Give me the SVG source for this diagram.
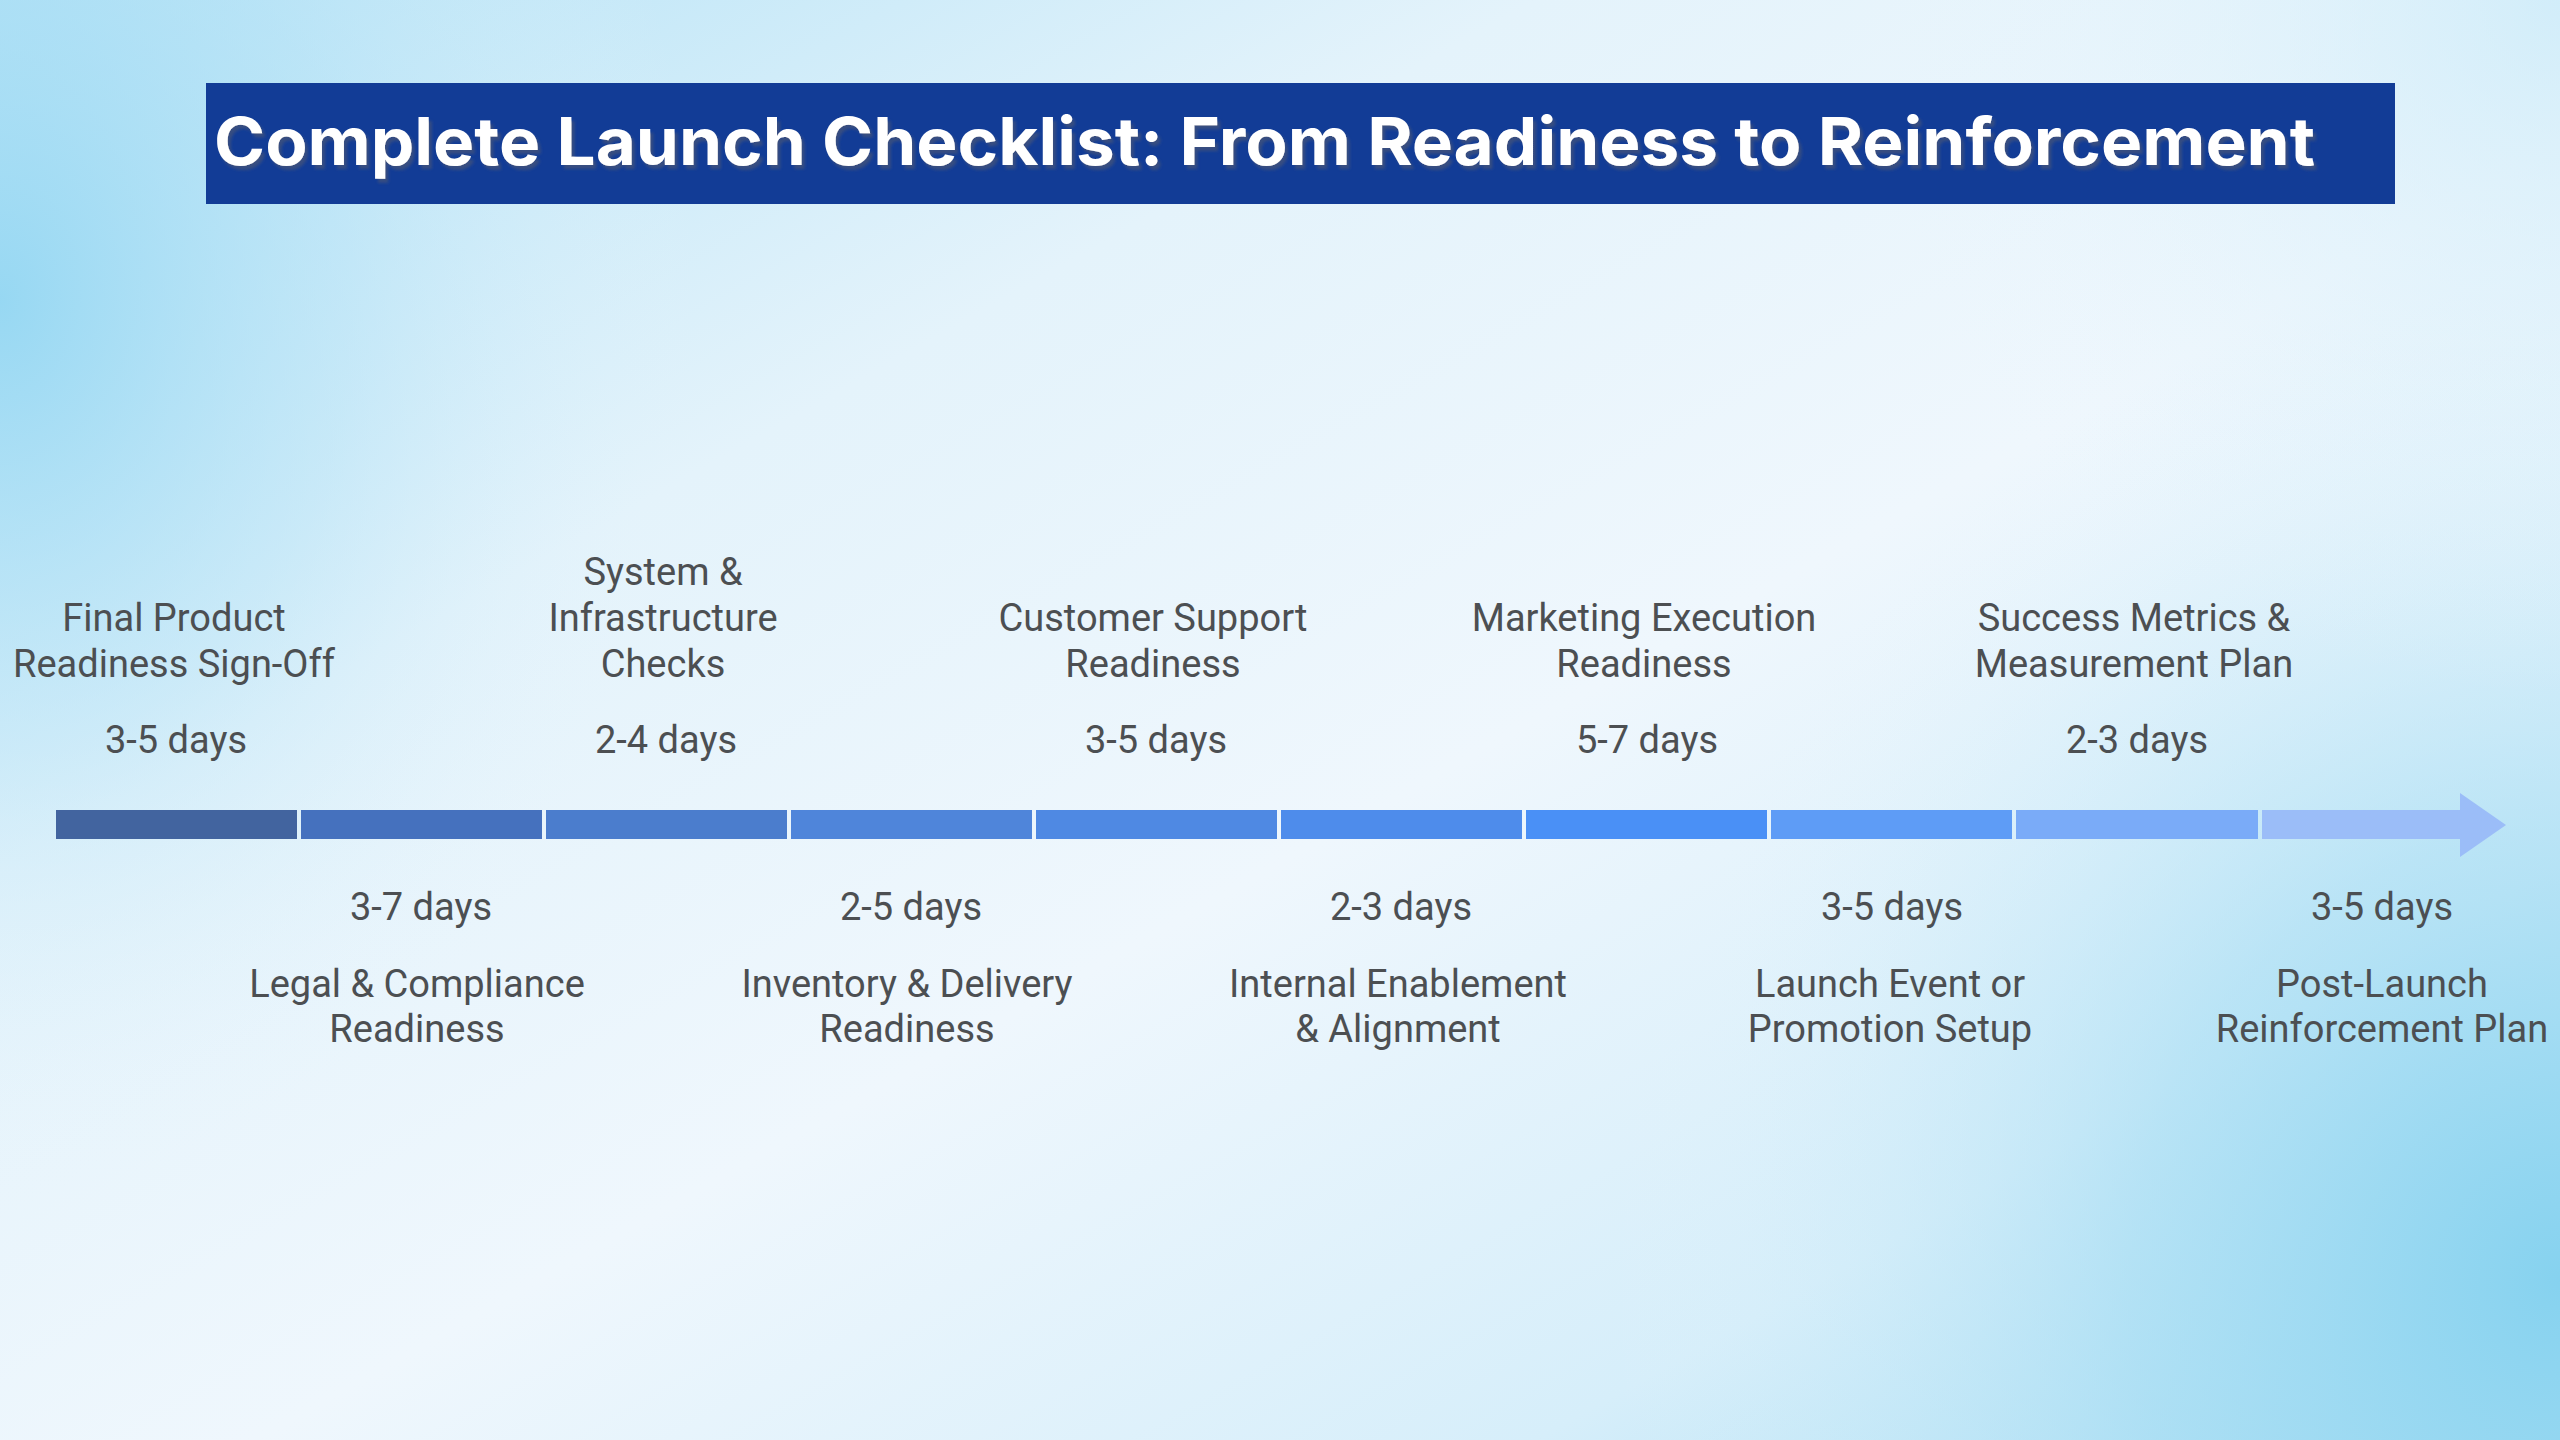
<svg xmlns="http://www.w3.org/2000/svg" width="2560" height="1440" viewBox="0 0 2560 1440">
  <defs>
    <linearGradient id="bgLin" x1="0" y1="0" x2="1" y2="1">
      <stop offset="0" stop-color="#b3e2f6"/>
      <stop offset="0.3" stop-color="#e4f3fb"/>
      <stop offset="0.55" stop-color="#eff7fd"/>
      <stop offset="0.8" stop-color="#d6eefa"/>
      <stop offset="1" stop-color="#9fdaf2"/>
    </linearGradient>
    <radialGradient id="glowL" cx="0" cy="0" r="1" gradientUnits="userSpaceOnUse" gradientTransform="translate(0 300) scale(700 900)">
      <stop offset="0" stop-color="#92d6f2" stop-opacity="0.9"/>
      <stop offset="0.5" stop-color="#b4e2f6" stop-opacity="0.45"/>
      <stop offset="1" stop-color="#e8f5fc" stop-opacity="0"/>
    </radialGradient>
    <radialGradient id="glowBR" cx="0" cy="0" r="1" gradientUnits="userSpaceOnUse" gradientTransform="translate(2560 1280) scale(950 1000)">
      <stop offset="0" stop-color="#86d2ef" stop-opacity="1"/>
      <stop offset="0.45" stop-color="#a6ddf3" stop-opacity="0.6"/>
      <stop offset="1" stop-color="#e8f5fc" stop-opacity="0"/>
    </radialGradient>
    <radialGradient id="glowTR" cx="2560" cy="0" r="700" gradientUnits="userSpaceOnUse">
      <stop offset="0" stop-color="#c6e9f8" stop-opacity="0.7"/>
      <stop offset="1" stop-color="#e8f5fc" stop-opacity="0"/>
    </radialGradient>
    <filter id="titleShadow" x="-5%" y="-30%" width="110%" height="160%">
      <feDropShadow dx="3" dy="4" stdDeviation="1.5" flood-color="#3a4f7e" flood-opacity="0.9"/>
    </filter>
    <style>
      .lbl { font-family: Roboto, "Liberation Sans", sans-serif; font-size: 38px; fill: #4c4f52; text-anchor: middle; }
      .dur { font-family: Roboto, "Liberation Sans", sans-serif; font-size: 38px; fill: #4c4f52; text-anchor: middle; }
      .title { font-family: Inter, "Open Sans", "Liberation Sans", sans-serif; font-weight: 700; font-size: 66px; fill: #ffffff; }
    </style>
  </defs>

  <!-- background -->
  <rect x="0" y="0" width="2560" height="1440" fill="url(#bgLin)"/>
  <rect x="0" y="0" width="2560" height="1440" fill="url(#glowL)"/>
  <rect x="0" y="0" width="2560" height="1440" fill="url(#glowBR)"/>
  <rect x="0" y="0" width="2560" height="1440" fill="url(#glowTR)"/>

  <!-- title -->
  <g id="title">
    <rect x="206" y="83" width="2189" height="121" fill="#123c96"/>
    <text class="title" x="214" y="165" textLength="2101" lengthAdjust="spacingAndGlyphs" filter="url(#titleShadow)">Complete Launch Checklist: From Readiness to Reinforcement</text>
  </g>

  <!-- timeline bar (connector) -->
  <g id="connectors">
    <rect x="56" y="810" width="241" height="29" fill="#42649f"/>
    <rect x="301" y="810" width="241" height="29" fill="#4571be"/>
    <rect x="546" y="810" width="241" height="29" fill="#4b7dcd"/>
    <rect x="791" y="810" width="241" height="29" fill="#4f85da"/>
    <rect x="1036" y="810" width="241" height="29" fill="#4f89e3"/>
    <rect x="1281" y="810" width="241" height="29" fill="#4e8ceb"/>
    <rect x="1526" y="810" width="241" height="29" fill="#4a90f6"/>
    <rect x="1771" y="810" width="241" height="29" fill="#5e9cf6"/>
    <rect x="2016" y="810" width="242" height="29" fill="#7aabf8"/>
    <polygon points="2262,810 2460,810 2460,793 2506,825 2460,857 2460,839 2262,839" fill="#9bbdf8"/>
  </g>

  <!-- nodes -->
  <g id="n1">
    <text class="lbl" x="174" y="631">Final Product</text>
    <text class="lbl" x="174" y="677">Readiness Sign-Off</text>
    <text class="dur" x="176" y="753">3-5 days</text>
  </g>
  <g id="n2">
    <text class="dur" x="421" y="920">3-7 days</text>
    <text class="lbl" x="417" y="997">Legal &amp; Compliance</text>
    <text class="lbl" x="417" y="1042">Readiness</text>
  </g>
  <g id="n3">
    <text class="lbl" x="663" y="585">System &amp;</text>
    <text class="lbl" x="663" y="631">Infrastructure</text>
    <text class="lbl" x="663" y="677">Checks</text>
    <text class="dur" x="666" y="753">2-4 days</text>
  </g>
  <g id="n4">
    <text class="dur" x="911" y="920">2-5 days</text>
    <text class="lbl" x="907" y="997">Inventory &amp; Delivery</text>
    <text class="lbl" x="907" y="1042">Readiness</text>
  </g>
  <g id="n5">
    <text class="lbl" x="1153" y="631">Customer Support</text>
    <text class="lbl" x="1153" y="677">Readiness</text>
    <text class="dur" x="1156" y="753">3-5 days</text>
  </g>
  <g id="n6">
    <text class="dur" x="1401" y="920">2-3 days</text>
    <text class="lbl" x="1398" y="997">Internal Enablement</text>
    <text class="lbl" x="1398" y="1042">&amp; Alignment</text>
  </g>
  <g id="n7">
    <text class="lbl" x="1644" y="631">Marketing Execution</text>
    <text class="lbl" x="1644" y="677">Readiness</text>
    <text class="dur" x="1647" y="753">5-7 days</text>
  </g>
  <g id="n8">
    <text class="dur" x="1892" y="920">3-5 days</text>
    <text class="lbl" x="1890" y="997">Launch Event or</text>
    <text class="lbl" x="1890" y="1042">Promotion Setup</text>
  </g>
  <g id="n9">
    <text class="lbl" x="2134" y="631">Success Metrics &amp;</text>
    <text class="lbl" x="2134" y="677">Measurement Plan</text>
    <text class="dur" x="2137" y="753">2-3 days</text>
  </g>
  <g id="n10">
    <text class="dur" x="2382" y="920">3-5 days</text>
    <text class="lbl" x="2382" y="997">Post-Launch</text>
    <text class="lbl" x="2382" y="1042">Reinforcement Plan</text>
  </g>
</svg>
